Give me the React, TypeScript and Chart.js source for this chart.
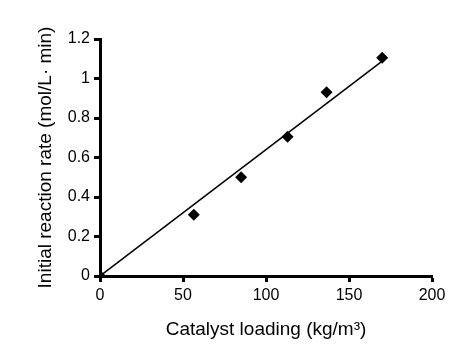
import React, { useEffect, useRef } from "react";
import { Chart, registerables } from "chart.js";

Chart.register(...registerables);

const loading: number[] = [0, 56.5, 85, 113, 136.5, 170];
const rate: number[] = [0, 0.31, 0.5, 0.705, 0.93, 1.105];
const fitX: number[] = [0, 170];
const fitY: number[] = [0, 1.088];
const xTitle = "Catalyst loading (kg/m\u00B3)";
const yTitle = "Initial reaction rate (mol/L\u00B7 min)";

export default function App() {
  const ref = useRef<HTMLCanvasElement | null>(null);
  useEffect(() => {
    document.body.style.margin = "0";
    const font = "'Liberation Sans', Arial, sans-serif";
    const chart = new Chart(ref.current!, {
      type: "scatter",
      data: {
        datasets: [
          {
            label: "fit",
            data: fitX.map((x, i) => ({ x, y: fitY[i] })),
            showLine: true,
            borderColor: "#000",
            borderWidth: 1.5,
            pointRadius: 0,
          },
          {
            label: "data",
            data: loading.map((x, i) => ({ x, y: rate[i] })),
            pointStyle: "rectRot",
            pointRadius: 6,
            backgroundColor: "#000",
            borderColor: "#000",
            borderWidth: 0,
          },
        ],
      },
      options: {
        animation: false,
        responsive: false,
        layout: { padding: { left: 30, right: 42, top: 39, bottom: 19 } },
        plugins: { legend: { display: false }, tooltip: { enabled: false } },
        scales: {
          x: {
            type: "linear",
            min: 0,
            max: 200,
            ticks: { stepSize: 50, color: "#000", font: { family: font, size: 16 }, padding: 4 },
            grid: { drawOnChartArea: false, drawTicks: true, tickLength: 6, tickColor: "#000", tickWidth: 3 },
            border: { color: "#000", width: 3 },
            title: { display: true, text: xTitle, color: "#000", font: { family: font, size: 19 } },
            afterFit: (s: any) => { s.height = 69; },
          },
          y: {
            type: "linear",
            min: 0,
            max: 1.2,
            ticks: { stepSize: 0.2, color: "#000", font: { family: font, size: 16 }, padding: 4,
              callback: (v: any) => String(Math.round(Number(v) * 10) / 10) },
            grid: { drawOnChartArea: false, drawTicks: true, tickLength: 6, tickColor: "#000", tickWidth: 3 },
            border: { color: "#000", width: 3 },
            title: { display: true, text: yTitle, color: "#000", font: { family: font, size: 19 } },
            afterFit: (s: any) => { s.width = 70; },
          },
        },
      },
    });
    return () => chart.destroy();
  }, []);
  return (
    <div style={{ position: "absolute", left: 0, top: 0, width: 474, height: 364, background: "#fff" }}>
      <canvas ref={ref} width={474} height={364} />
    </div>
  );
}
